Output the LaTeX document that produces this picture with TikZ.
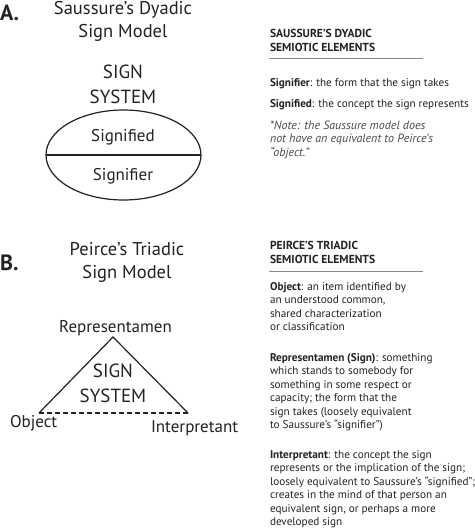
\documentclass[tikz,border=0pt]{standalone}
\usepackage{fontspec}
\setmainfont{PT Sans}
\usetikzlibrary{shapes.geometric}
\definecolor{ink}{HTML}{222222}
\definecolor{notegray}{HTML}{4A4A4A}
\definecolor{rulegray}{HTML}{8A8A8A}
\tikzset{
  every node/.style={inner sep=0pt, outer sep=0pt, text=ink},
  biglabel/.style={font=\fontsize{22}{24}\selectfont\bfseries, anchor=base west},
  title/.style={font=\fontsize{18.5}{23}\selectfont, anchor=base, align=center},
  signsys/.style={font=\fontsize{19}{25}\selectfont, anchor=base},
  part/.style={font=\fontsize{17}{19}\selectfont, anchor=base},
  header/.style={font=\fontsize{11.6}{14}\selectfont\bfseries, anchor=base west},
  body/.style={font=\fontsize{11.2}{13.5}\selectfont, anchor=base west},
  note/.style={font=\fontsize{12}{13.5}\selectfont\itshape, anchor=base west, text=notegray},
  hrule/.style={draw=rulegray, line width=1pt},
  shapeline/.style={draw=ink, line width=1.2pt}
}
\begin{document}
\begin{tikzpicture}[x=1pt,y=-1pt]
\useasboundingbox[fill=white] (0,0) rectangle (474,530);
% ---- A ----
\node[biglabel] (la) at (0,20) {A.};
\node[title] (ta) at (123,14) {\parbox[t]{170pt}{\centering Saussure’s Dyadic\\Sign Model}};
\node[signsys] (sa1) at (123,78) {SIGN};
\node[signsys] (sa2) at (123,103) {SYSTEM};
\node[ellipse, shapeline, minimum width=155pt, minimum height=90pt] (ell) at (123.5,155) {};
\draw[shapeline] (ell.west) -- (ell.east);
\node[part] (sfd) at (123,141.5) {Signified};
\node[part] (sfr) at (123,180) {Signifier};
% right A
\node[header] (ha) at (270,37) {\parbox[t]{200pt}{\raggedright SAUSSURE’S DYADIC\\SEMIOTIC ELEMENTS}};
\coordinate (ra1) at (269,58);
\coordinate (ra2) at (423,58);
\draw[hrule] (ra1) -- (ra2);
\node[body] (d1) at (270,86) {\textbf{Signifier}: the form that the sign takes};
\node[body] (d2) at (270,107) {\textbf{Signified}: the concept the sign represents};
\node[note] (n1) at (270,129) {\parbox[t]{200pt}{\raggedright *Note: the Saussure model does\\not have an equivalent to Peirce’s\\“object.”}};
% ---- B ----
\node[biglabel] (lb) at (0,270) {B.};
\node[title] (tb) at (127,255) {\parbox[t]{170pt}{\centering Peirce’s Triadic\\Sign Model}};
\coordinate (apex) at (113,337);
\coordinate (obj) at (39,413);
\coordinate (intp) at (188,413);
\draw[shapeline, line join=miter] (obj) -- (apex) -- (intp);
\draw[shapeline, dash pattern=on 5pt off 3pt] (obj) -- (intp);
\node[part] (rep) at (115.5,332) {Representamen};
\node[signsys] (sb1) at (113,377) {SIGN};
\node[signsys] (sb2) at (113,402) {SYSTEM};
\node[part, anchor=base west] (ob) at (10,427) {Object};
\node[part, anchor=base west] (ip) at (151,432) {Interpretant};
% right B
\node[header] (hb) at (270,249) {\parbox[t]{200pt}{\raggedright PEIRCE’S TRIADIC\\SEMIOTIC ELEMENTS}};
\coordinate (rb1) at (269,271);
\coordinate (rb2) at (423,271);
\draw[hrule] (rb1) -- (rb2);
\node[body] (e1) at (270,290) {\parbox[t]{210pt}{\raggedright \textbf{Object}: an item identified by\\an understood common,\\shared characterization\\or classification}};
\node[body] (e2) at (270,361) {\parbox[t]{210pt}{\raggedright \textbf{Representamen (Sign)}: something\\which stands to somebody for\\something in some respect or\\capacity; the form that the\\sign takes (loosely equivalent\\to Saussure’s “signifier”)}};
\node[body] (e3) at (270,458) {\parbox[t]{210pt}{\raggedright \textbf{Interpretant}: the concept the sign\\represents or the implication of the sign;\\loosely equivalent to Saussure’s “signified”;\\creates in the mind of that person an\\equivalent sign, or perhaps a more\\developed sign}};
\end{tikzpicture}
\end{document}
